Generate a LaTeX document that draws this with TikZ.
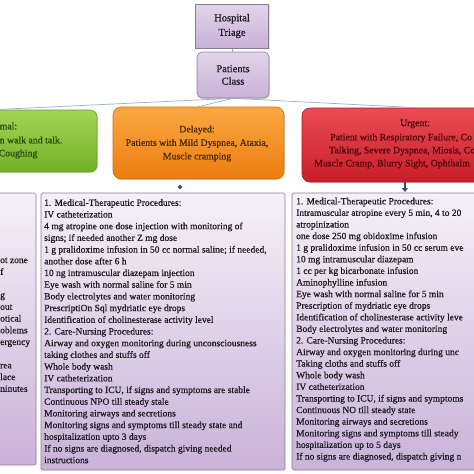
\documentclass[tikz,border=0pt]{standalone}
\usepackage{fontspec}
\setmainfont{Liberation Serif}[FakeBold=0.7]
\usetikzlibrary{shapes.geometric,shadows,arrows.meta}
\definecolor{lavtop}{HTML}{F5F1F8}
\definecolor{lavbot}{HTML}{C9B2D8}
\definecolor{lavline}{HTML}{8C7B97}
\definecolor{tritop}{HTML}{E2D5EA}
\definecolor{tribot}{HTML}{C8B1D7}
\definecolor{grtop}{HTML}{A3D455}
\definecolor{grbot}{HTML}{72B128}
\definecolor{grline}{HTML}{6A9E2E}
\definecolor{grtext}{HTML}{2A4A0C}
\definecolor{ortop}{HTML}{FBA842}
\definecolor{orbot}{HTML}{EC7C10}
\definecolor{orline}{HTML}{CF6E0E}
\definecolor{ortext}{HTML}{4A2805}
\definecolor{rdtop}{HTML}{EA4B54}
\definecolor{rdbot}{HTML}{C81E2A}
\definecolor{rdline}{HTML}{A91A24}
\definecolor{rdtext}{HTML}{4E0808}
\definecolor{conn}{HTML}{9BB0C4}
\definecolor{marker}{HTML}{2F4D7E}
\definecolor{bodytext}{HTML}{1E1A22}
\tikzset{
  shadowed/.style={drop shadow={shadow xshift=1pt,shadow yshift=-1.2pt,opacity=0.25}},
  tribox/.style={draw=lavline, line width=0.6pt, top color=tritop, bottom color=tribot, align=center, inner sep=0, font=\fontsize{10.5}{14.5}\selectfont, text=bodytext, shadowed},
  lavbox/.style={draw=lavline, line width=0.7pt, top color=lavtop, bottom color=lavbot, inner sep=0, rounded corners=1.5pt},
  greenbox/.style={draw=grline, line width=0.6pt, top color=grtop, bottom color=grbot, rounded corners=7pt, inner sep=0, shadowed},
  orangebox/.style={draw=orline, line width=0.6pt, top color=ortop, bottom color=orbot, rounded corners=8pt, inner sep=0, shadowed},
  redbox/.style={draw=rdline, line width=0.6pt, top color=rdtop, bottom color=rdbot, rounded corners=8pt, inner sep=0, shadowed},
  connline/.style={draw=conn, line width=0.7pt},
  bodylist/.style={anchor=north west, align=left, inner sep=0, text=bodytext, font=\fontsize{9.5}{11.7}\selectfont},
  headtext/.style={inner sep=0, font=\fontsize{9.8}{13.5}\selectfont},
}
\begin{document}
\begin{tikzpicture}[x=1pt,y=-1pt]
\useasboundingbox (0,0) rectangle (474,474);
\clip (0,0) rectangle (474,474);
\fill[white] (-5,-5) rectangle (480,480);

% top hierarchy
\node[tribox, minimum width=73pt, minimum height=44pt] (triage) at (232,26) {Hospital\\Triage};
\node[tribox, rounded corners=5pt, minimum width=72pt, minimum height=46pt, font=\fontsize{10.5}{12.5}\selectfont] (patients) at (233,75) {Patients\\Class};
\draw[draw=lavline, line width=0.6pt] (triage.south) -- (patients.north);

% category boxes
\node[greenbox, minimum width=207pt, minimum height=62pt] (normal) at (-6.5,141) {};
\node[orangebox, minimum width=171pt, minimum height=72pt] (delayed) at (198.5,143) {};
\node[redbox, minimum width=228pt, minimum height=74pt] (urgent) at (416,145) {};

\draw[connline] (patients.south) -- (normal.north);
\draw[connline] (patients.south) -- (delayed.north);
\draw[connline] (patients.south) -- (urgent.north);

% green texts
\node[headtext, text=grtext, anchor=west] (g1) at (-0.5,126) {mal:};
\node[headtext, text=grtext, anchor=west] (g2) at (-0.5,140) {n walk and talk.};
\node[headtext, text=grtext, anchor=west] (g3) at (-1.5,154) {Coughing};

% orange text
\node[headtext, text=ortext, align=center] (dtext) at (197,143.5) {Delayed:\\Patients with Mild Dyspnea, Ataxia,\\Muscle cramping};

% red texts
\node[headtext, text=rdtext] (u0) at (415,124) {Urgent:};
\node[headtext, text=rdtext, anchor=west] (u1) at (330,138) {Patient with Respiratory Failure, Co};
\node[headtext, text=rdtext, anchor=west] (u2) at (329,151) {Talking, Severe Dyspnea, Miosis, Co};
\node[headtext, text=rdtext, anchor=west] (u3) at (314,164) {Muscle Cramp, Blurry Sight, Ophthalm};

% markers
\node[diamond, fill=marker, inner sep=0, minimum size=5pt] (dmark) at (180,187) {};
\coordinate (ua) at (405,181.5);
\coordinate (ub) at (405,192);
\draw[marker, line width=1.6pt, -{Triangle[length=4pt,width=6pt]}] (ua) -- (ub);

% lavender boxes
\node[lavbox, minimum width=136pt, minimum height=272pt] (leftbox) at (-32,329) {};
\node[lavbox, minimum width=244pt, minimum height=277pt] (midbox) at (163,331.5) {};
\node[lavbox, minimum width=278pt, minimum height=277pt] (rightbox) at (431,331.5) {};

\node[bodylist] (lefttext) at (0,257.5) {ot zone\\f\\\mbox{}\\g\\out\\otical\\oblems\\ergency\\\mbox{}\\rea\\lace\\ninutes};

\node[bodylist] (midtext) at (44,199) {1. Medical-Therapeutic Procedures:\\
IV catheterization\\
4 mg atropine one dose injection with monitoring of\\
signs; if needed another Z mg dose\\
1 g pralidoxime infusion in 50 cc normal saline; if needed,\\
another dose after 6 h\\
10 ng intramuscular diazepam injection\\
Eye wash with normal saline for 5 min\\
Body electrolytes and water monitoring\\
PrescriptiOn Sql mydriatic eye drops\\
Identification of cholinesterase activity level\\
2. Care-Nursing Procedures:\\
Airway and oxygen monitoring during unconsciousness\\
taking clothes and stuffs off\\
Whole body wash\\
IV catheterization\\
Transporting to ICU, if signs and symptoms are stable\\
Continuous NPO till steady stale\\
Monitoring airways and secretions\\
Monitoring signs and symptoms till steady state and\\
hospitalization upto 3 days\\
If no signs are diagnosed, dispatch giving needed\\
instructions};

\node[bodylist, font=\fontsize{9.5}{11.6}\selectfont] (righttext) at (296,197.5) {1. Medical-Therapeutic Procedures:\\
Intramuscular atropine every 5 min, 4 to 20\\
atropinization\\
one dose 250 mg obidoxime infusion\\
1 g pralidoxime infusion in 50 cc serum eve\\
10 mg intramuscular diazepam\\
1 cc per kg bicarbonate infusion\\
Aminophylline infusion\\
Eye wash with normal saline for 5 min\\
Prescription of mydriatic eye drops\\
Identification of cholinesterase activity leve\\
Body electrolytes and water monitoring\\
2. Care-Nursing Procedures:\\
Airway and oxygen monitoring during unc\\
Taking cloths and stuffs off\\
Whole body wash\\
IV catheterization\\
Transporting to ICU, if signs and symptoms\\
Continuous NO till steady state\\
Monitoring airways and secretions\\
Monitoring signs and symptoms till steady\\
hospitalization up to 5 days\\
If no signs are diagnosed, dispatch giving n};
\end{tikzpicture}
\end{document}
